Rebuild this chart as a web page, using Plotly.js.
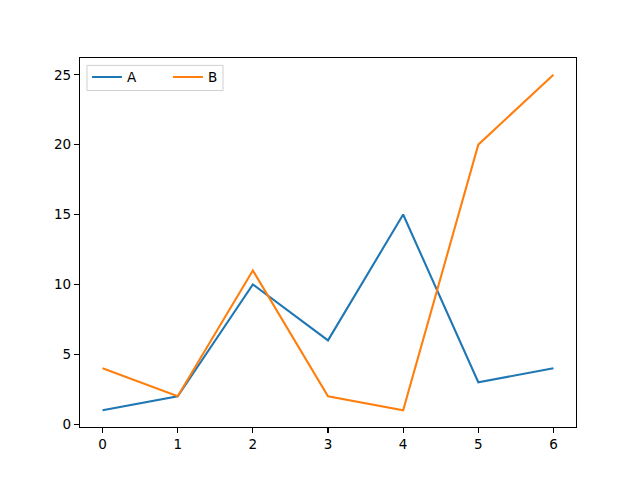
<!DOCTYPE html>
<html>
<head>
<meta charset="utf-8">
<script src="https://cdn.plot.ly/plotly-3.0.1.min.js"></script>
<style>html,body{margin:0;padding:0;background:#fff;}#chart{width:640px;height:480px;}</style>
</head>
<body>
<div id="chart"></div>
<script>
var xValues = [0, 1, 2, 3, 4, 5, 6];
var seriesA = [1, 2, 10, 6, 15, 3, 4];
var seriesB = [4, 2, 11, 2, 1, 20, 25];
var xTicks = [0, 1, 2, 3, 4, 5, 6];
var yTicks = [0, 5, 10, 15, 20, 25];

var traces = [
  {x: xValues, y: seriesA, name: 'A', type: 'scatter', mode: 'lines', line: {color: '#1f77b4', width: 2.1}},
  {x: xValues, y: seriesB, name: 'B', type: 'scatter', mode: 'lines', line: {color: '#ff7f0e', width: 2.1}}
];

var axisCommon = {
  showgrid: false, zeroline: false, showline: true, mirror: true,
  linecolor: '#000', linewidth: 1.1,
  ticks: 'outside', ticklen: 5, tickwidth: 1.1, tickcolor: '#000',
  tickfont: {family: 'DejaVu Sans', size: 13.5, color: '#000'}
};

var layout = {
  width: 640, height: 480,
  margin: {l: 80, r: 64, t: 57.6, b: 52.8, pad: 0},
  paper_bgcolor: '#fff', plot_bgcolor: '#fff',
  showlegend: true,
  legend: {
    orientation: 'h', x: 0.014, y: 0.99, xanchor: 'left', yanchor: 'top',
    borderwidth: 0, bgcolor: 'rgba(0,0,0,0)',
    font: {family: 'DejaVu Sans', size: 13.5, color: '#000'},
    itemwidth: 30, traceorder: 'normal',
    entrywidthmode: 'pixels', entrywidth: 36
  },
  shapes: [{
    type: 'rect', xref: 'paper', yref: 'paper',
    x0: 0.0141, x1: 0.2883, y0: 0.912, y1: 0.980,
    line: {color: '#d0d0d0', width: 1}, fillcolor: 'rgba(255,255,255,0.8)', layer: 'below'
  }],
  xaxis: Object.assign({}, axisCommon, {range: [-0.3, 6.3], tickmode: 'array', tickvals: xTicks, ticktext: xTicks.map(String)}),
  yaxis: Object.assign({}, axisCommon, {range: [-0.2, 26.2], tickmode: 'array', tickvals: yTicks, ticktext: yTicks.map(String)})
};

Plotly.newPlot('chart', traces, layout, {displayModeBar: false, staticPlot: true});
</script>
</body>
</html>
